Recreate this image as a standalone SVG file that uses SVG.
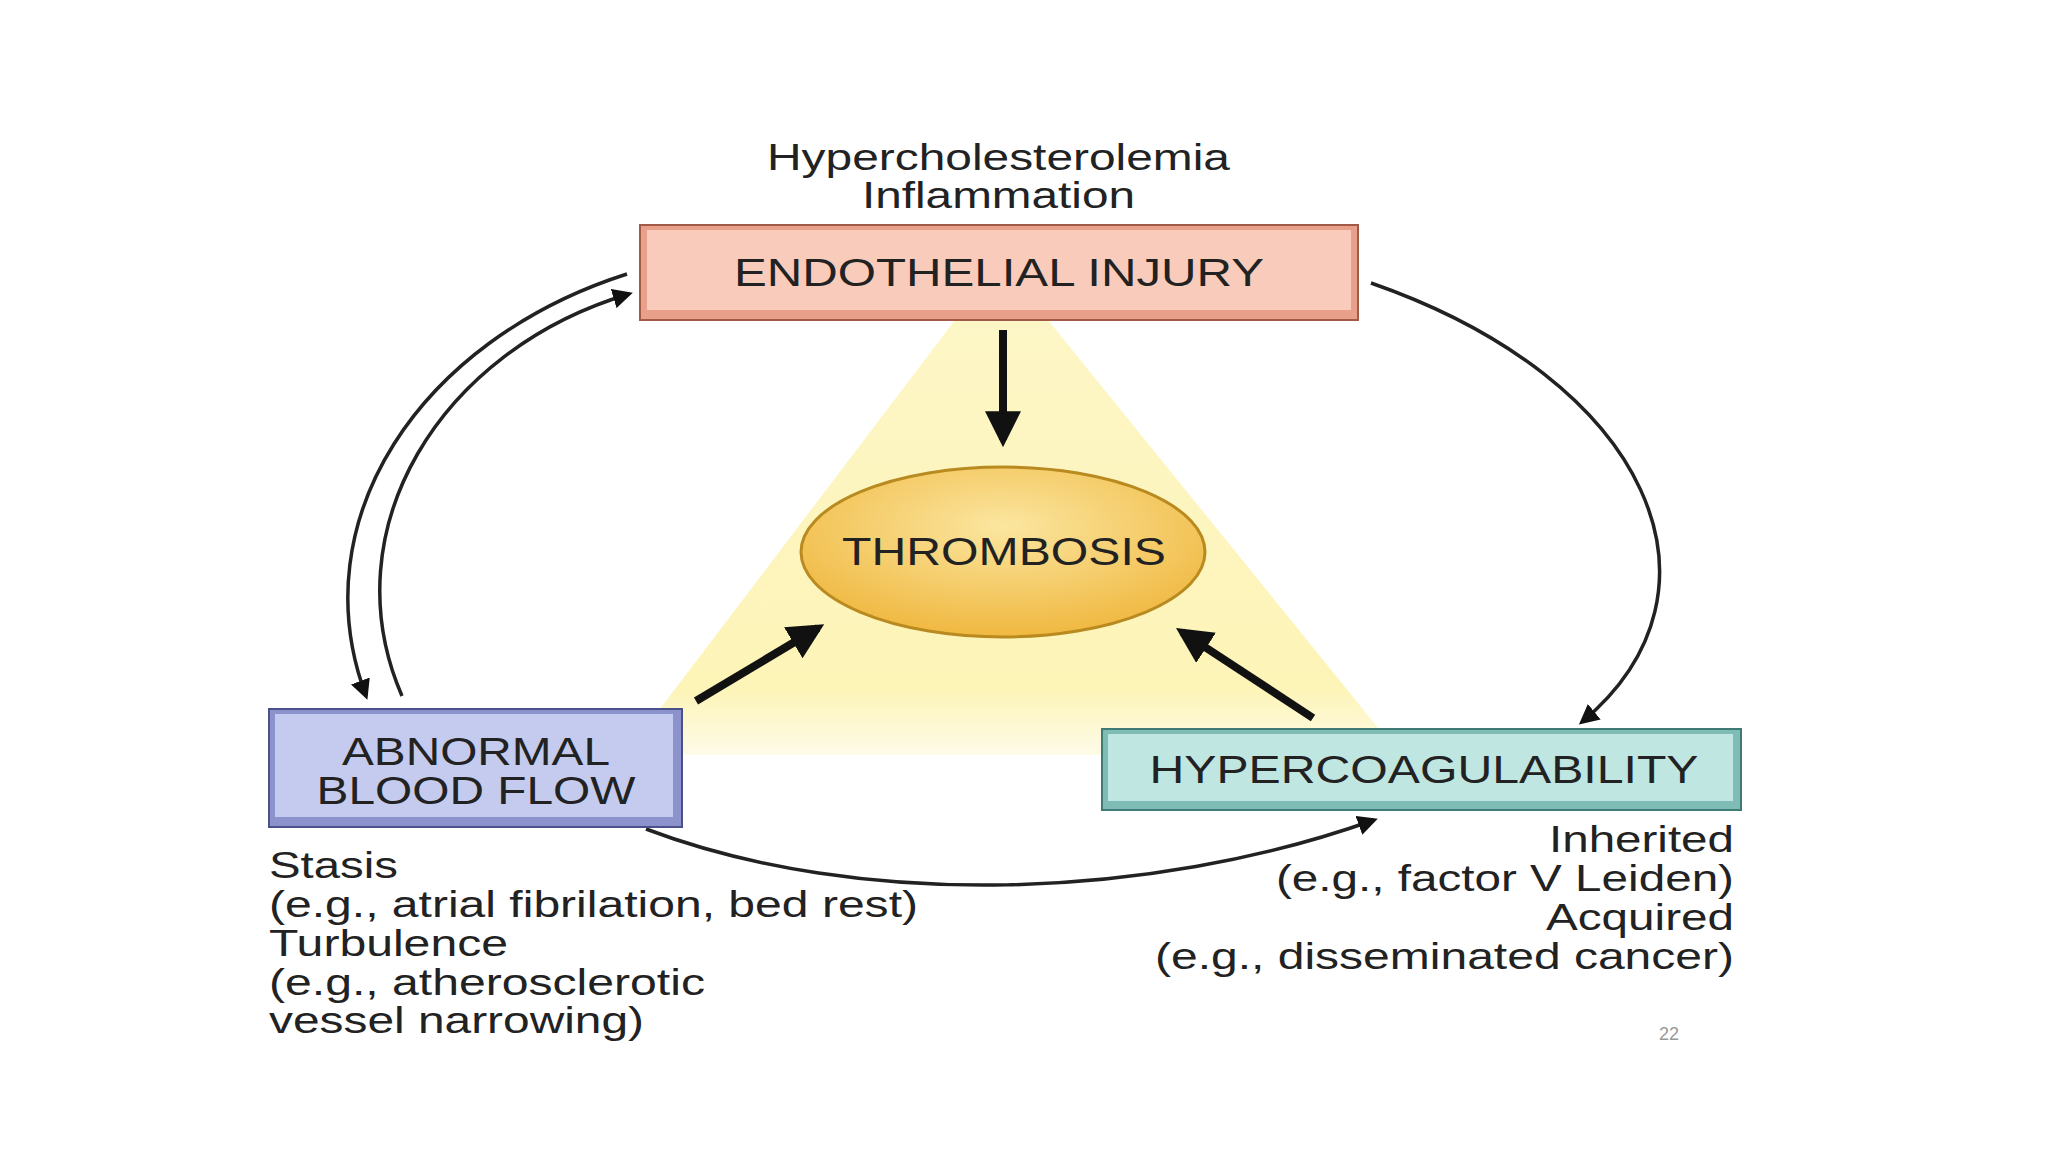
<svg xmlns="http://www.w3.org/2000/svg" width="2048" height="1152" viewBox="0 0 2048 1152">
<defs>
<style>
text{font-family:"Liberation Sans",Arial,sans-serif;fill:#222}
.lbl{font-size:37px}
.box{font-size:39px;text-anchor:middle}
.thin{fill:none;stroke:#222;stroke-width:3.5}
.thick{fill:none;stroke:#111;stroke-width:8}
</style>
<marker id="ahs" markerWidth="36" markerHeight="36" refX="8" refY="5" orient="auto" markerUnits="userSpaceOnUse" viewBox="0 0 10 10"><path d="M0,0 L10,5 L0,10 z" fill="#111"/></marker>
<marker id="ahb" markerWidth="20" markerHeight="20" refX="8" refY="5" orient="auto" viewBox="0 0 10 10" markerUnits="userSpaceOnUse"><path d="M0,0 L10,5 L0,10 z" fill="#111"/></marker>
<radialGradient id="tg" cx="50%" cy="35%" r="65%"><stop offset="0" stop-color="#fbe6a0"/><stop offset="1" stop-color="#f0b840"/></radialGradient>
<linearGradient id="tri" x1="0" y1="0" x2="0" y2="1"><stop offset="0" stop-color="#fdf6c6"/><stop offset="0.85" stop-color="#fdf4b8"/><stop offset="1" stop-color="#fefbe8"/></linearGradient>
</defs>
<rect width="2048" height="1152" fill="#fff"/>
<polygon points="955,320 1048,320 1400,755 625,755" fill="url(#tri)"/>
<g id="connectors">
<path class="thin" d="M627,274 C420,340 300,520 366,696" marker-end="url(#ahb)"/>
<path class="thin" d="M402,696 C330,530 440,350 629,294" marker-end="url(#ahb)"/>
<path class="thin" d="M1371,283 C1650,380 1740,590 1582,722" marker-end="url(#ahb)"/>
<path class="thin" d="M646,829 C860,910 1150,900 1374,820" marker-end="url(#ahb)"/>
<path class="thick" d="M1003,330 L1003,440" marker-end="url(#ahs)"/>
<path class="thick" d="M696,701 L818,628" marker-end="url(#ahs)"/>
<path class="thick" d="M1313,718 L1182,632" marker-end="url(#ahs)"/>
</g>
<g id="endothelial">
<text class="lbl" x="767" y="170" textLength="463" lengthAdjust="spacingAndGlyphs">Hypercholesterolemia</text>
<text class="lbl" x="862" y="208" textLength="273" lengthAdjust="spacingAndGlyphs">Inflammation</text>
<rect x="640" y="225" width="718" height="95" fill="#e8a08a" stroke="#a05a48" stroke-width="2"/>
<rect x="647" y="230" width="704" height="80" fill="#f8cbbb"/>
<text class="box" x="999" y="286" textLength="530" lengthAdjust="spacingAndGlyphs">ENDOTHELIAL INJURY</text>
</g>
<g id="thrombosis">
<ellipse cx="1003" cy="552" rx="202" ry="85" fill="url(#tg)" stroke="#b88a20" stroke-width="3"/>
<text class="box" x="1004" y="565" textLength="324" lengthAdjust="spacingAndGlyphs">THROMBOSIS</text>
</g>
<g id="abnormal">
<rect x="269" y="709" width="413" height="118" fill="#8c93cc" stroke="#4a5088" stroke-width="2"/>
<rect x="275" y="714" width="398" height="103" fill="#c5cbee"/>
<text class="box" x="476" y="765" textLength="268" lengthAdjust="spacingAndGlyphs">ABNORMAL</text>
<text class="box" x="476" y="804" textLength="319" lengthAdjust="spacingAndGlyphs">BLOOD FLOW</text>
<text class="lbl" x="269" y="878" textLength="129" lengthAdjust="spacingAndGlyphs">Stasis</text>
<text class="lbl" x="269" y="917" textLength="649" lengthAdjust="spacingAndGlyphs">(e.g., atrial fibrilation, bed rest)</text>
<text class="lbl" x="269" y="956" textLength="239" lengthAdjust="spacingAndGlyphs">Turbulence</text>
<text class="lbl" x="269" y="995" textLength="436" lengthAdjust="spacingAndGlyphs">(e.g., atherosclerotic</text>
<text class="lbl" x="269" y="1033" textLength="375" lengthAdjust="spacingAndGlyphs">vessel narrowing)</text>
</g>
<g id="hypercoag">
<rect x="1102" y="729" width="639" height="81" fill="#7fbcb6" stroke="#3f7a74" stroke-width="2"/>
<rect x="1108" y="734" width="625" height="67" fill="#c0e6e2"/>
<text class="box" x="1424" y="783" textLength="549" lengthAdjust="spacingAndGlyphs">HYPERCOAGULABILITY</text>
<text class="lbl" x="1549" y="852" textLength="185" lengthAdjust="spacingAndGlyphs">Inherited</text>
<text class="lbl" x="1276" y="891" textLength="458" lengthAdjust="spacingAndGlyphs">(e.g., factor V Leiden)</text>
<text class="lbl" x="1546" y="930" textLength="188" lengthAdjust="spacingAndGlyphs">Acquired</text>
<text class="lbl" x="1155" y="969" textLength="579" lengthAdjust="spacingAndGlyphs">(e.g., disseminated cancer)</text>
</g>
<text x="1669" y="1040" text-anchor="middle" style="font-size:18px;fill:#999">22</text>
</svg>
